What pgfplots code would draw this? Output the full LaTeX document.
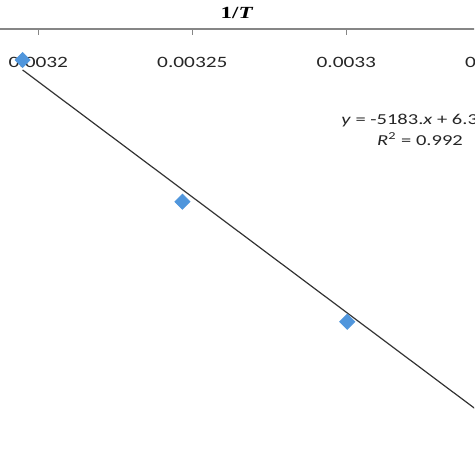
\documentclass[border=0pt]{standalone}
\usepackage{fontspec}
\setmainfont[FakeStretch=1.35]{Carlito}
\newfontfamily\titlefont[FakeStretch=1.35]{Liberation Serif}
\usepackage{pgfplots}
\pgfplotsset{compat=1.18}
\definecolor{ptblue}{RGB}{80,150,220}
\definecolor{axgray}{RGB}{134,134,134}
\begin{document}
\begin{tikzpicture}[x=1pt,y=1pt]
\useasboundingbox (0,-237) rectangle (237,0);
\clip (0,-237) rectangle (237,0);
\begin{axis}[
  at={(0pt,-14.5pt)}, anchor=north west,
  scale only axis, width=265.55pt, height=222.5pt,
  xmin=0.00318756, xmax=0.00336,
  ymin=-11.1675, ymax=-10.1671,
  axis x line=top, axis y line=none,
  x axis line style={-, draw=axgray, line width=0.6pt},
  scaled x ticks=false,
  xtick={0.0032,0.00325,0.0033,0.00335},
  xticklabels={0.0032,0.00325,0.0033,0.00335},
  xtick align=inside,
  major tick length=3pt,
  tick style={draw=axgray, line width=0.6pt},
  xticklabel style={anchor=north, yshift=-10.5pt, font=\fontsize{7.9}{9}\selectfont, text=black!85},
  ytick=\empty,
  clip=true,
]
\addplot[only marks, mark=square*, mark size=2.65pt, mark options={rotate=45, fill=ptblue, draw=ptblue}]
  coordinates {(0.0031949,-10.2368) (0.0032468,-10.5554) (0.0033003,-10.8252)};
\addplot[black!80, line width=0.6pt] coordinates {(0.0031949,-10.2592) (0.0033557,-11.0926)};
\end{axis}
\node[align=center, font=\fontsize{7.6}{10.5}\selectfont, text=black!85] at (210,-65) {\textit{y} = -5183.\textit{x} + 6.318\\\textit{R}\textsuperscript{2} = 0.992};
\node[font=\titlefont\bfseries\fontsize{8.5}{10}\selectfont] at (118.5,-6.4) {1/\textit{T}};
\end{tikzpicture}
\end{document}
